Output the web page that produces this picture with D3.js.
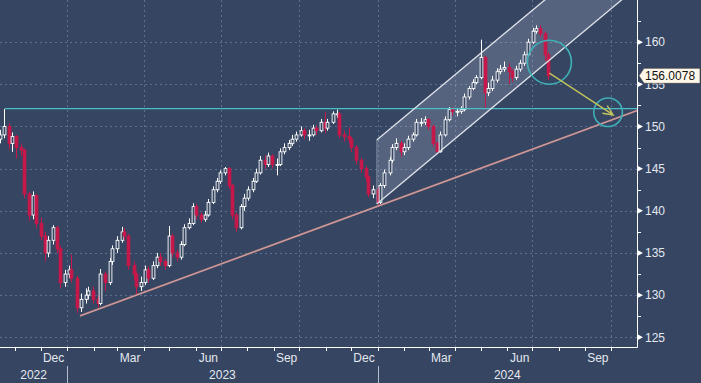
<!DOCTYPE html>
<html><head><meta charset="utf-8">
<script src="https://cdn.jsdelivr.net/npm/d3@7"></script>
<style>html,body{margin:0;padding:0;background:#354562;}svg{display:block}</style>
</head><body>
<svg id="c" width="701" height="383"></svg>
<script>
// ---- data ----
const openVals = [148.5,149.0,150.0,148.0,148.8,147.5,147.2,142.0,139.5,141.8,
138.5,137.0,135.0,136.5,138.0,135.5,131.5,132.5,133.0,132.0,
128.5,129.5,130.0,130.5,129.5,129.0,132.5,131.5,134.0,135.5,
136.5,137.5,137.0,133.5,132.5,131.0,131.5,133.0,132.0,133.5,
134.5,134.0,133.5,137.0,135.0,134.5,136.0,138.0,138.5,140.5,
139.5,139.0,139.5,141.0,142.5,143.5,144.5,145.0,143.0,139.5,
138.0,140.5,141.5,142.5,143.5,144.5,146.0,145.5,146.5,145.5,
145.5,147.0,147.5,148.0,148.5,149.0,149.5,149.0,149.0,149.8,
149.5,150.5,149.8,150.5,151.5,151.5,149.0,148.8,148.5,147.5,
146.0,145.0,144.0,142.0,142.5,141.0,143.0,144.5,146.0,147.5,
148.0,147.0,147.5,148.5,149.0,150.5,150.5,150.8,150.0,148.0,
147.0,149.0,150.8,152.0,151.8,151.8,152.0,153.5,154.5,155.2,
155.8,158.2,154.0,154.5,155.5,156.5,156.8,157.0,156.5,155.8,
156.8,157.5,158.5,160.0,161.3,161.6,161.0,158.5];
const highVals = [149.6,152.1,150.4,149.3,149.0,148.0,147.4,142.3,142.3,142.0,
139.2,137.5,137.0,138.3,138.2,135.8,133.0,133.5,134.8,132.3,
130.2,130.8,131.0,131.0,130.0,133.1,132.8,134.4,135.9,137.0,
138.1,138.0,137.2,134.0,132.8,132.2,133.5,133.4,134.0,135.0,
135.0,134.3,138.2,137.3,135.4,136.4,138.4,139.1,140.9,140.8,
139.8,140.0,141.4,142.9,143.9,144.8,145.2,145.2,143.2,139.8,
140.8,142.0,142.9,143.9,145.0,146.5,146.6,146.9,146.7,146.2,
147.4,148.0,148.4,149.0,149.4,150.0,149.8,149.6,150.2,150.1,
150.9,151.7,150.9,151.8,152.0,151.7,149.5,149.9,148.7,147.8,
146.3,145.3,144.2,143.0,142.8,143.3,144.9,146.4,147.9,148.6,
148.3,148.0,148.9,149.3,150.9,151.0,151.2,151.0,150.2,148.2,
149.4,151.2,152.3,152.3,152.2,152.4,153.9,154.8,155.6,156.1,
160.3,158.4,155.2,156.0,156.9,157.3,157.7,157.5,156.8,157.2,
157.9,158.9,160.4,161.7,162.0,162.0,161.3,158.8];
const lowVals = [148.0,148.6,147.3,147.0,146.2,146.5,141.5,138.8,139.0,138.0,
136.5,134.0,134.5,136.0,135.0,130.8,131.0,132.0,131.5,127.9,
128.0,129.0,129.5,129.0,128.5,128.8,130.5,131.2,133.6,135.0,
136.2,136.5,133.0,131.8,130.0,130.5,131.2,131.5,131.8,133.2,
133.5,133.0,133.3,134.5,134.0,134.2,135.8,137.8,138.3,139.0,
138.6,138.7,139.3,140.8,142.2,143.2,144.2,142.6,139.0,137.5,
137.8,140.0,141.2,142.2,143.3,144.3,145.0,145.2,145.0,144.2,
145.3,146.7,147.2,147.7,148.2,148.8,148.5,148.3,148.8,149.0,
149.3,149.2,149.5,150.3,151.0,148.6,148.2,148.0,147.0,145.5,
144.5,143.5,141.6,141.5,140.5,140.8,142.7,144.2,145.7,147.2,
146.4,146.6,147.2,148.2,148.8,150.0,150.2,149.6,147.6,146.9,
146.9,148.8,150.6,151.3,151.2,151.5,151.8,153.2,154.3,155.0,
155.6,152.2,153.6,154.2,155.2,156.2,156.5,155.0,155.3,155.5,
156.5,157.2,158.3,159.8,161.0,160.6,157.8,155.5];
const closeVals = [149.0,150.0,148.0,148.8,147.5,147.2,142.0,139.5,141.8,138.5,
137.0,135.0,136.5,138.0,135.5,131.5,132.5,133.0,132.0,128.5,
129.5,130.0,130.5,129.5,129.0,132.5,131.5,134.0,135.5,136.5,
137.5,137.0,133.5,132.5,131.0,131.5,133.0,132.0,133.5,134.5,
134.0,133.5,137.0,135.0,134.5,136.0,138.0,138.5,140.5,139.5,
139.0,139.5,141.0,142.5,143.5,144.5,145.0,143.0,139.5,138.0,
140.5,141.5,142.5,143.5,144.5,146.0,145.5,146.5,145.5,145.5,
147.0,147.5,148.0,148.5,149.0,149.5,149.0,149.0,149.8,149.5,
150.5,149.8,150.5,151.5,151.5,149.0,148.8,148.5,147.5,146.0,
145.0,144.0,142.0,142.5,141.0,143.0,144.5,146.0,147.5,148.0,
147.0,147.5,148.5,149.0,150.5,150.5,150.8,150.0,148.0,147.0,
149.0,150.8,152.0,151.8,151.8,152.0,153.5,154.5,155.2,155.8,
158.2,154.0,154.5,155.5,156.5,156.8,157.0,156.5,155.8,156.8,
157.5,158.5,160.0,161.3,161.6,161.0,158.5,156.0078];
const firstSession = "2022-10-14";
const lastSession = "2024-07-19";
const yTicks = [125,130,135,140,145,150,155,160];
const yMinorTicks = [127.5,132.5,137.5,142.5,147.5,152.5,157.5,162.5];
const monthLabels = ["Dec","Mar","Jun","Sep","Dec","Mar","Jun","Sep"];
const monthLabelDates = ["2022-12-16","2023-03-16","2023-06-16","2023-09-16","2023-12-16","2024-03-16","2024-06-16","2024-09-16"];
const yearLabels = ["2022","2023","2024"];
const lastPrice = 156.0078;
// annotations (date, value)
const resistance = {from:"2022-10-20", to:"2024-11-01", value:152.12};
const trendLine = [["2023-01-16",127.53],["2024-11-01",151.88]];
const channelLower = [["2023-12-31",140.81],["2024-11-01",166.53]];
const channelUpper = [["2023-12-31",148.40],["2024-11-01",174.12]];
const circles = [["2024-07-21",157.62,22],["2024-09-28",151.69,14.3]];
const arrowPts = [["2024-07-21",156.32],["2024-10-04",151.37]];

// ---- setup ----
const parse = d3.timeParse("%Y-%m-%d");
const W = 637, H = 347;
const xStart = parse("2022-10-14"), xEnd = parse("2024-11-01");
const x = d3.scaleTime().domain([xStart, xEnd]).range([0, W]);
const y = d3.scaleLinear().domain([123.85, 165.0]).range([H, 0]);
const svg = d3.select("#c");
const bg = "#354562";
svg.append("rect").attr("width",701).attr("height",383).attr("fill",bg);
svg.append("defs").append("clipPath").attr("id","clip").append("rect").attr("width",W).attr("height",H);

const grid = svg.append("g");
grid.selectAll("line.h").data(yTicks).join("line")
  .attr("x1",0).attr("x2",W).attr("y1",d=>Math.round(y(d))+0.5).attr("y2",d=>Math.round(y(d))+0.5)
  .attr("stroke","#5b6f90").attr("stroke-dasharray","2,3");
const quarters = d3.timeMonth.every(3).range(xStart, xEnd);
grid.selectAll("line.v").data(quarters).join("line")
  .attr("x1",d=>Math.round(x(d))+0.5).attr("x2",d=>Math.round(x(d))+0.5).attr("y1",0).attr("y2",H)
  .attr("stroke","#5b6f90").attr("stroke-dasharray","2,3");

const plot = svg.append("g").attr("clip-path","url(#clip)");
// channel fill
const chPoly = [
  [x(parse(channelUpper[0][0])), y(channelUpper[0][1])],
  [x(parse(channelUpper[1][0])), y(channelUpper[1][1])],
  [x(parse(channelLower[1][0])), y(channelLower[1][1])],
  [x(parse(channelLower[0][0])), y(channelLower[0][1])]];
plot.append("path").attr("d","M"+chPoly.join("L")+"Z").attr("fill","rgba(200,210,228,0.22)");

// candles
const sessions = d3.timeDays(parse(firstSession), d3.timeDay.offset(parse(lastSession),1)).filter(d=>d.getDay()%6!==0);
const N = closeVals.length;
const candles = closeVals.map((c,i)=>({
  date: sessions[Math.round(i*(sessions.length-1)/(N-1))],
  o: openVals[i], h: highVals[i], l: lowVals[i], c: c}));
const red = "#c8174a";
const cg = plot.append("g");
const bw = 2.8;
candles.forEach(d=>{
  const cx = Math.round(x(d.date))+0.5;
  const up = d.c >= d.o;
  const col = up ? "#ffffff" : red;
  cg.append("line").attr("x1",cx).attr("x2",cx).attr("y1",y(d.h)).attr("y2",y(d.l)).attr("stroke",col).attr("stroke-width",1);
  const top = y(Math.max(d.o,d.c)), bot = y(Math.min(d.o,d.c));
  cg.append("rect").attr("x",cx-bw/2).attr("y",top).attr("width",bw).attr("height",Math.max(1,bot-top))
    .attr("fill", up ? bg : red).attr("stroke", col).attr("stroke-width",0.9);
});

// resistance
plot.append("line").attr("x1",x(parse(resistance.from))).attr("x2",x(parse(resistance.to)))
  .attr("y1",y(resistance.value)).attr("y2",y(resistance.value)).attr("stroke","#49c0c6").attr("stroke-width",1.4);
// trend line
const ln = d3.line().x(d=>x(parse(d[0]))).y(d=>y(d[1]));
plot.append("path").attr("d",ln(trendLine)).attr("stroke","#bb8282").attr("stroke-width",1.8).attr("fill","none");
plot.append("path").attr("d",ln(trendLine)).attr("stroke","#dcb2b2").attr("stroke-width",0.6).attr("fill","none");
// channel lines
plot.append("path").attr("d",ln(channelLower)).attr("stroke","#dfe3ea").attr("stroke-width",1.3).attr("fill","none");
plot.append("path").attr("d",ln(channelUpper)).attr("stroke","#dfe3ea").attr("stroke-width",1.3).attr("fill","none");
plot.append("line").attr("x1",chPoly[0][0]).attr("x2",chPoly[3][0]).attr("y1",chPoly[0][1]).attr("y2",chPoly[3][1])
  .attr("stroke","rgba(220,225,235,0.35)").attr("stroke-width",1);
// circles
circles.forEach(c=>{
  plot.append("circle").attr("cx",x(parse(c[0]))).attr("cy",y(c[1])).attr("r",c[2])
    .attr("fill","none").attr("stroke","#3fb0b6").attr("stroke-width",1.6);
});
// arrow
const a0 = [x(parse(arrowPts[0][0])), y(arrowPts[0][1])];
const a1 = [x(parse(arrowPts[1][0])), y(arrowPts[1][1])];
const ang = Math.atan2(a1[1]-a0[1], a1[0]-a0[0]);
const hl = 11, ha = 0.42;
const h1 = [a1[0]-hl*Math.cos(ang-ha), a1[1]-hl*Math.sin(ang-ha)];
const h2 = [a1[0]-hl*Math.cos(ang+ha), a1[1]-hl*Math.sin(ang+ha)];
const arrowCol = "#c2c25a";
plot.append("path").attr("d",`M${a0}L${a1}M${h1}L${a1}L${h2}`).attr("stroke",arrowCol).attr("stroke-width",1.4).attr("fill","none");

// axes
const axCol = "#ffffff", txtCol = "#e4e8ef";
const font = "'Liberation Sans', Arial, sans-serif";
svg.append("line").attr("x1",W+0.5).attr("x2",W+0.5).attr("y1",0).attr("y2",H+0.5).attr("stroke",axCol);
svg.append("line").attr("x1",0).attr("x2",W+0.5).attr("y1",H+0.5).attr("y2",H+0.5).attr("stroke",axCol);
const yax = svg.append("g");
yax.selectAll("path.tri").data(yTicks).join("path")
  .attr("d",d=>{const v=y(d);return `M${W},${v-3.2}L${W+6},${v}L${W},${v+3.2}Z`;}).attr("fill",axCol);
yax.selectAll("line.mn").data(yMinorTicks).join("line")
  .attr("x1",W).attr("x2",W+4).attr("y1",d=>Math.round(y(d))+0.5).attr("y2",d=>Math.round(y(d))+0.5).attr("stroke",axCol);
yax.selectAll("text").data(yTicks).join("text")
  .attr("x",W+8).attr("y",d=>y(d)).attr("dy","0.36em").text(d=>d)
  .attr("fill",txtCol).attr("font-family",font).attr("font-size",12);

// x axis ticks
const months = d3.timeMonth.range(xStart, xEnd);
svg.append("g").selectAll("line").data(months).join("line")
  .attr("x1",d=>Math.round(x(d))+0.5).attr("x2",d=>Math.round(x(d))+0.5).attr("y1",H).attr("y2",H+4).attr("stroke",axCol);
svg.append("g").selectAll("text").data(monthLabels).join("text")
  .attr("x",(d,i)=>x(parse(monthLabelDates[i]))).attr("y",362).attr("text-anchor","middle").text(d=>d)
  .attr("fill",txtCol).attr("font-family",font).attr("font-size",12);
const yearBounds = [xStart, new Date(2023,0,1), new Date(2024,0,1), xEnd];
svg.append("g").selectAll("text").data(yearLabels).join("text")
  .attr("x",(d,i)=>(x(yearBounds[i])+x(yearBounds[i+1]))/2).attr("y",379).attr("text-anchor","middle").text(d=>d)
  .attr("fill",txtCol).attr("font-family",font).attr("font-size",12);
svg.append("g").selectAll("line").data(yearBounds.slice(1,3)).join("line")
  .attr("x1",d=>Math.round(x(d))+0.5).attr("x2",d=>Math.round(x(d))+0.5).attr("y1",366).attr("y2",383).attr("stroke","#b4bccb");

// last price tag
const ly = y(lastPrice);
svg.append("path").attr("d",`M${W+2},${ly}L${W+7},${ly-7.5}L700,${ly-7.5}L700,${ly+7.5}L${W+7},${ly+7.5}Z`)
  .attr("fill","#fff7ea").attr("stroke","#3a3a3a").attr("stroke-width",0.6);
svg.append("text").attr("x",W+8).attr("y",ly).attr("dy","0.36em").text(lastPrice.toFixed(4))
  .attr("fill","#111").attr("font-family",font).attr("font-size",12);
</script>
</body></html>
